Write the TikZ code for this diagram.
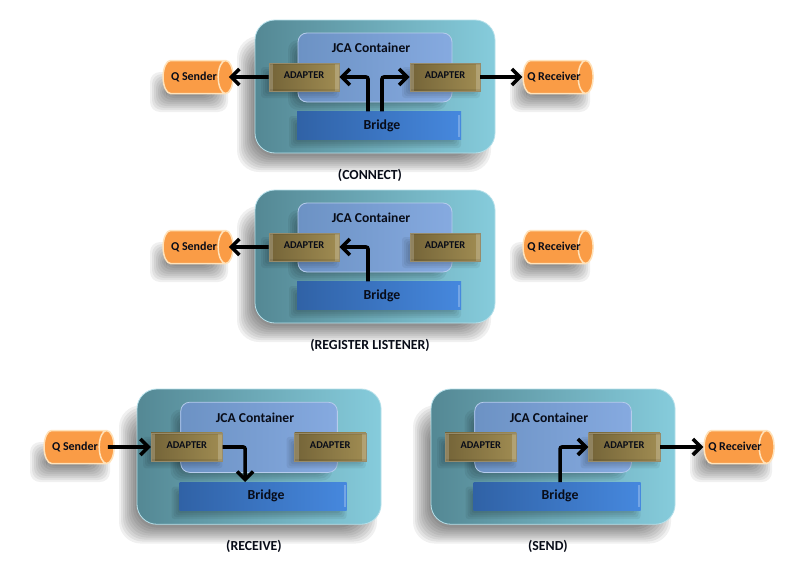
\documentclass[tikz,border=0pt]{standalone}
\usepackage{fontspec}
\setmainfont{Carlito}
\usetikzlibrary{shapes.geometric}
\usetikzlibrary{arrows.meta}

\definecolor{tealdark}{RGB}{84,136,148}
\definecolor{teallight}{RGB}{134,204,220}
\definecolor{innerdark}{RGB}{108,146,196}
\definecolor{innerlight}{RGB}{134,170,224}
\definecolor{oliveleft}{RGB}{116,100,56}
\definecolor{oliveright}{RGB}{160,140,82}
\definecolor{bridgeleft}{RGB}{48,98,166}
\definecolor{bridgeright}{RGB}{70,136,222}
\definecolor{orangebody}{RGB}{250,156,70}
\definecolor{orangeedge}{RGB}{255,226,186}
\definecolor{inktext}{RGB}{8,12,24}

\tikzset{
  panelbox/.style={rectangle, rounded corners=20pt, inner sep=0pt, left color=tealdark, right color=teallight, draw=teallight!60!white, line width=0.8pt},
  innerbox/.style={rectangle, rounded corners=9pt, inner sep=0pt, left color=innerdark, right color=innerlight, draw=innerlight!60!white, line width=0.8pt},
  adapterbox/.style={rectangle, inner sep=0pt, minimum height=28pt, left color=oliveleft, right color=oliveright, draw=oliveleft!75!white, line width=0.6pt, text=inktext, font=\fontsize{10.4}{12}\selectfont\bfseries,
    path picture={
      \fill[white,opacity=0.2] (path picture bounding box.north west) rectangle ([xshift=4pt]path picture bounding box.south west);
      \fill[white,opacity=0.2] (path picture bounding box.north east) rectangle ([xshift=-4pt]path picture bounding box.south east);
      \fill[black,opacity=0.08] (path picture bounding box.north west) rectangle ([yshift=-2pt]path picture bounding box.north east);
      \fill[black,opacity=0.08] (path picture bounding box.south west) rectangle ([yshift=2pt]path picture bounding box.south east);
    }},
  bridgebox/.style={rectangle, inner sep=0pt, minimum height=28pt, left color=bridgeleft, right color=bridgeright, text=inktext, font=\fontsize{13.8}{16}\selectfont\bfseries,
    path picture={
      \fill[white,opacity=0.25] ([xshift=-3pt,yshift=-3pt]path picture bounding box.north east) rectangle ([xshift=-1pt,yshift=3pt]path picture bounding box.south east);
    }},
  queuebox/.style={shape=cylinder, aspect=1.5, inner sep=0pt, minimum height=70pt, minimum width=33pt, cylinder uses custom fill, cylinder body fill=orangebody, cylinder end fill=orangebody, draw=orangeedge, line width=1.5pt, text=inktext, font=\fontsize{12}{14}\selectfont\bfseries},
  labeltext/.style={inner sep=0pt, text=inktext, font=\fontsize{13.6}{16}\selectfont\bfseries},
  captiontext/.style={inner sep=0pt, text=inktext, font=\fontsize{13.8}{16}\selectfont\bfseries},
  flow/.style={line width=3.6pt, black, rounded corners=2pt, -{Straight Barb[length=8pt,width=16pt,line width=3.6pt]}},
}

% soft shadow: x1,y1,x2,y2,radius
\newcommand{\softshadow}[5]{
  \foreach \i in {0,...,8}
    \fill[black, opacity=0.06, rounded corners=#5] ({#1+\i*2},{#2+\i*2}) rectangle ({#3-\i*2},{#4-\i*2});
}
% queue text may run over the end of the cylinder
\newcommand{\qlabel}[1]{\makebox[30pt][c]{#1}\hspace{6pt}}

\begin{document}
\begin{tikzpicture}[x=1pt,y=-1pt]

      \useasboundingbox (0,0) rectangle (797,570);
      \fill[white] (0,0) rectangle (797,570);

      % queue shadows
      \softshadow{150}{72}{228}{112}{10}
      \softshadow{150}{242}{228}{282}{10}
      \softshadow{30}{442}{110}{482}{10}
      \softshadow{510}{72}{590}{112}{10}
      \softshadow{510}{242}{590}{282}{10}
      \softshadow{690}{442}{772}{482}{10}

      % the four panels
      \foreach \pid/\x/\y/\k/\captext in {A/255/20/1/(CONNECT), B/255/190/1/(REGISTER LISTENER), C/137/389/1.017/(RECEIVE), D/431/389/1.017/(SEND)} {
        \softshadow{\x-18}{\y+16*\k}{\x+236*\k}{\y+152*\k}{22}
        \node[panelbox, minimum width=240*\k, minimum height=133*\k] (outer\pid) at ({\x+120*\k},{\y+66.5*\k}) {};
        \softshadow{\x+33*\k}{\y+20*\k}{\x+192*\k}{\y+90*\k}{10}
        \node[innerbox, minimum width=154*\k, minimum height=69*\k] (inner\pid) at ({\x+120*\k},{\y+47.5*\k}) {};
        \node[labeltext] (title\pid) at ({\x+116*\k},{\y+28*\k}) {JCA Container};
        \softshadow{\x+6*\k}{\y+47*\k}{\x+84*\k}{\y+78*\k}{3}
        \softshadow{\x+147*\k}{\y+47*\k}{\x+225*\k}{\y+78*\k}{3}
        \softshadow{\x+34*\k}{\y+96*\k}{\x+206*\k}{\y+128*\k}{3}
        \node[adapterbox, minimum width=70*\k] (left\pid) at ({\x+49*\k},{\y+57*\k}) {\raisebox{3pt}{ADAPTER}};
        \node[adapterbox, minimum width=70*\k] (right\pid) at ({\x+190*\k},{\y+57*\k}) {\raisebox{3pt}{ADAPTER}};
        \node[bridgebox, minimum width=164*\k] (bridge\pid) at ({\x+124*\k},{\y+105.5*\k}) {\hspace{6pt}Bridge};
        \node[captiontext] (caption\pid) at ({\x+115*\k},{\y+155.2*\k}) {\captext};
      }

      \node[queuebox] (senderA) at (194,77) {\qlabel{Q Sender}};
      \node[queuebox] (receiverA) at (554,77) {\qlabel{Q Receiver}};
      \node[queuebox] (senderB) at (194,247) {\qlabel{Q Sender}};
      \node[queuebox] (receiverB) at (554,247) {\qlabel{Q Receiver}};
      \node[queuebox] (senderC) at (75,447) {\qlabel{Q Sender}};
      \node[queuebox] (receiverD) at (735,447) {\qlabel{Q Receiver}};

      % CONNECT
      \draw[flow] (leftA.west) -- ([xshift=-5pt]senderA.east);
      \draw[flow] ([xshift=-11pt]bridgeA.north) |- (leftA.east);
      \draw[flow] ([xshift=3pt]bridgeA.north) |- (rightA.west);
      \draw[flow] (rightA.east) -- (receiverA.west |- rightA.east);

      % REGISTER LISTENER
      \draw[flow] (leftB.west) -- ([xshift=-5pt]senderB.east);
      \draw[flow] ([xshift=-11pt]bridgeB.north) |- (leftB.east);

      % RECEIVE
      \draw[flow] ([xshift=-7pt]senderC.east) -- (leftC.west);
      \draw[flow] (leftC.east) -| ([xshift=-18pt]bridgeC.north);

      % SEND
      \draw[flow] ([xshift=3pt]bridgeD.north) |- (rightD.west);
      \draw[flow] (rightD.east) -- (receiverD.west |- rightD.east);

    \end{tikzpicture}
\end{document}
